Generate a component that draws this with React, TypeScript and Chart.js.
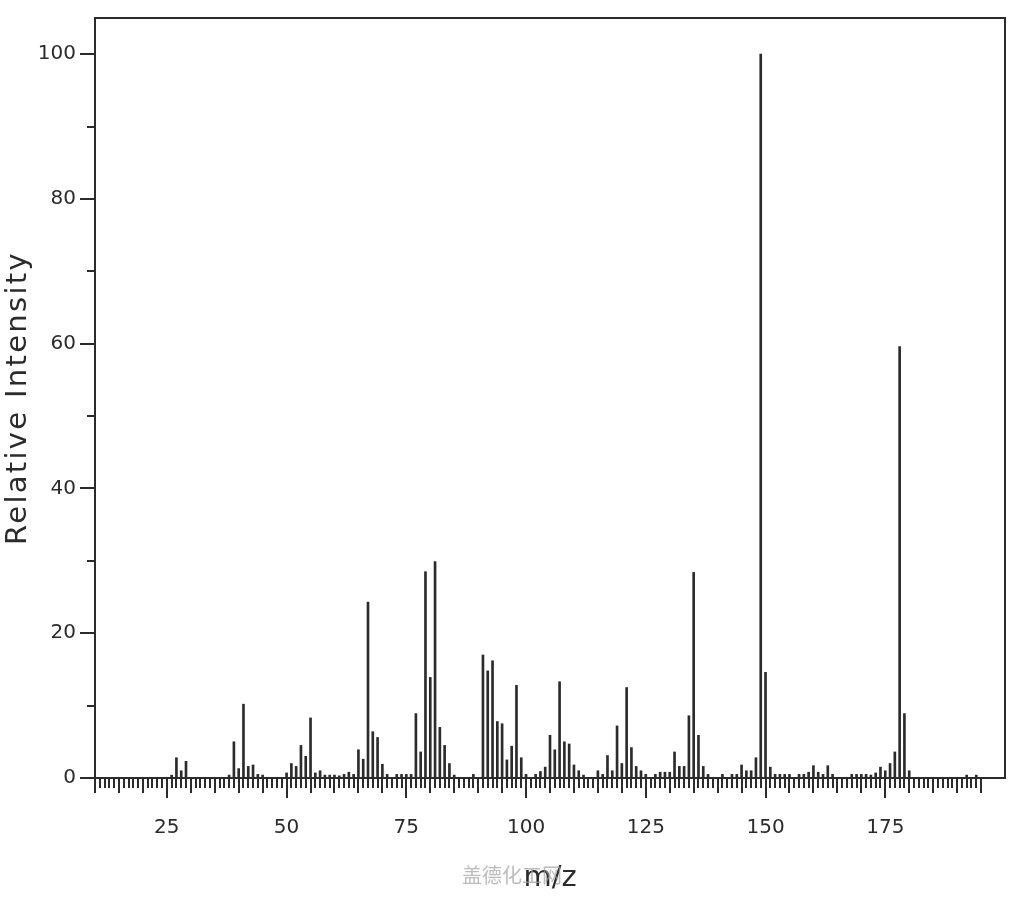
import React, { useEffect, useRef } from "react";
import { Chart, registerables } from "chart.js";

Chart.register(...registerables);

const mzValues = [
  26, 27, 28, 29,
  38, 39, 40, 41, 42, 43, 44, 45,
  50, 51, 52, 53, 54, 55, 56, 57, 58, 59, 60, 61, 62, 63, 64, 65, 66, 67, 68, 69, 70, 71,
  73, 74, 75, 76, 77, 78, 79, 80, 81, 82, 83, 84, 85,
  89, 91, 92, 93, 94, 95, 96, 97, 98, 99, 100,
  102, 103, 104, 105, 106, 107, 108, 109, 110, 111, 112,
  115, 116, 117, 118, 119, 120, 121, 122, 123, 124, 125,
  127, 128, 129, 130, 131, 132, 133, 134, 135, 136, 137, 138,
  141, 143, 144, 145, 146, 147, 148, 149, 150, 151, 152, 153, 154, 155,
  157, 158, 159, 160, 161, 162, 163, 164,
  168, 169, 170, 171, 172, 173, 174, 175, 176, 177, 178, 179, 180,
  192, 194,
];

const intensities = [
  0.4, 2.8, 1.0, 2.3,
  0.4, 5.0, 1.3, 10.2, 1.6, 1.8, 0.5, 0.4,
  0.7, 2.0, 1.6, 4.5, 3.0, 8.3, 0.7, 1.0, 0.4, 0.4, 0.4, 0.3, 0.5, 0.8, 0.5, 3.9, 2.6, 24.3, 6.4, 5.6, 1.9, 0.5,
  0.5, 0.5, 0.5, 0.5, 8.9, 3.6, 28.5, 13.9, 29.9, 7.0, 4.5, 2.0, 0.4,
  0.5, 17.0, 14.8, 16.2, 7.8, 7.5, 2.5, 4.4, 12.8, 2.8, 0.5,
  0.5, 0.9, 1.5, 5.9, 3.9, 13.3, 5.0, 4.7, 1.8, 1.0, 0.4,
  1.0, 0.5, 3.1, 1.0, 7.2, 2.0, 12.5, 4.2, 1.6, 1.0, 0.5,
  0.5, 0.8, 0.8, 0.8, 3.6, 1.6, 1.6, 8.6, 28.4, 5.9, 1.6, 0.5,
  0.5, 0.5, 0.5, 1.8, 1.0, 1.0, 2.8, 100, 14.6, 1.5, 0.5, 0.5, 0.5, 0.5,
  0.5, 0.5, 0.8, 1.7, 0.8, 0.5, 1.7, 0.5,
  0.5, 0.5, 0.5, 0.5, 0.4, 0.7, 1.5, 1.0, 2.0, 3.6, 59.6, 8.9, 1.0,
  0.4, 0.4,
];

const xMin = 10;
const xMax = 200;
const xTickEnd = 195;
const xLabelStep = 25;
const yMin = 0;
const yMax = 105;
const yLabelStep = 20;
const yMinorStep = 10;

const xTitle = "m/z";
const yTitle = "Relative Intensity";
const watermark = "盖德化工网";

const INK = "#2b2b2b";

const frameAndTicks = {
  id: "frameAndTicks",
  afterDraw(chart: any) {
    const { ctx, chartArea } = chart;
    const xs = chart.scales.x;
    const ys = chart.scales.y;
    ctx.save();
    ctx.strokeStyle = INK;
    ctx.lineWidth = 2;
    ctx.strokeRect(chartArea.left, chartArea.top, chartArea.right - chartArea.left, chartArea.bottom - chartArea.top);
    for (let v = xMin; v <= xTickEnd; v++) {
      const px = Math.round(xs.getPixelForValue(v));
      const len = v % 25 === 0 ? 20 : v % 5 === 0 ? 15 : 10;
      ctx.beginPath();
      ctx.moveTo(px, chartArea.bottom);
      ctx.lineTo(px, chartArea.bottom + len);
      ctx.stroke();
    }
    for (let v = yMin; v <= 100; v += yMinorStep) {
      const py = Math.round(ys.getPixelForValue(v));
      const len = v % yLabelStep === 0 ? 15 : 8;
      ctx.beginPath();
      ctx.moveTo(chartArea.left - len, py);
      ctx.lineTo(chartArea.left, py);
      ctx.stroke();
    }
    ctx.translate(18, (chartArea.top + chartArea.bottom) / 2);
    ctx.rotate(-Math.PI / 2);
    ctx.fillStyle = INK;
    ctx.font = "29px 'DejaVu Sans'";
    (ctx as any).letterSpacing = "2.3px";
    ctx.textAlign = "center";
    ctx.textBaseline = "middle";
    ctx.fillText(yTitle, 0, 0);
    ctx.restore();
  },
};

function App() {
  const canvasRef = useRef<HTMLCanvasElement | null>(null);

  useEffect(() => {
    document.body.style.margin = "0";
    const canvas = canvasRef.current;
    if (!canvas) return;
    const chart = new Chart(canvas, {
      type: "bar",
      data: {
        datasets: [
          {
            data: mzValues.map((m, i) => ({ x: m, y: intensities[i] })),
            backgroundColor: INK,
            borderWidth: 0,
            barThickness: 2,
          },
        ],
      },
      options: {
        animation: false,
        responsive: false,
        maintainAspectRatio: false,
        layout: { padding: { top: 18, right: 19, left: 0, bottom: 0 } },
        plugins: { legend: { display: false }, tooltip: { enabled: false } },
        scales: {
          x: {
            type: "linear",
            min: xMin,
            max: xMax,
            offset: false,
            grid: { display: false },
            border: { display: false },
            ticks: {
              stepSize: xLabelStep,
              includeBounds: false,
              padding: 30,
              maxRotation: 0,
              color: INK,
              font: { family: "DejaVu Sans", size: 20 },
            },
            afterBuildTicks: (scale: any) => {
              scale.ticks = scale.ticks.filter((t: any) => t.value >= 25 && t.value <= 175);
            },
            afterFit: (scale: any) => {
              scale.height = 122;
              scale.paddingLeft = 0;
              scale.paddingRight = 0;
            },
            title: {
              display: true,
              text: xTitle,
              color: INK,
              font: { family: "DejaVu Sans", size: 29 },
              padding: { top: 0, bottom: 4 },
            },
          },
          y: {
            min: yMin,
            max: yMax,
            grid: { display: false },
            border: { display: false },
            ticks: {
              stepSize: yLabelStep,
              includeBounds: false,
              padding: 11,
              color: INK,
              font: { family: "DejaVu Sans", size: 20 },
            },
            afterFit: (scale: any) => {
              scale.width = 95;
              scale.paddingTop = 0;
              scale.paddingBottom = 0;
            },
          },
        },
      },
      plugins: [frameAndTicks],
    } as any);
    return () => chart.destroy();
  }, []);

  return (
    <div style={{ position: "relative", width: 1024, height: 900 }}>
      <canvas ref={canvasRef} width={1024} height={900} style={{ display: "block" }} />
      <span
        style={{
          position: "absolute",
          left: 462,
          top: 862,
          fontFamily: "'Noto Sans CJK SC'",
          fontSize: 20,
          lineHeight: "26px",
          color: "rgba(160,160,160,0.7)",
          pointerEvents: "none",
        }}
      >
        {watermark}
      </span>
    </div>
  );
}

export default App;
